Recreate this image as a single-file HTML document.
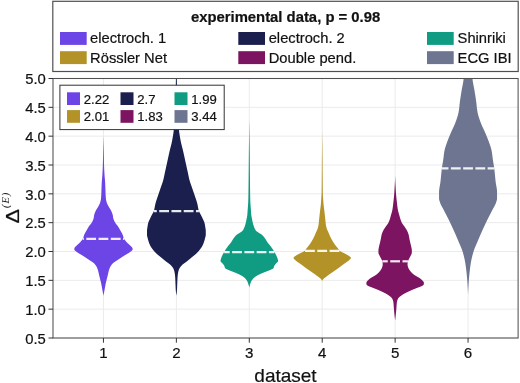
<!DOCTYPE html>
<html><head><meta charset="utf-8"><title>violin</title><style>html,body{margin:0;padding:0;background:#fff}</style></head><body>
<svg width="520" height="383" viewBox="0 0 520 383" style="display:block">
<rect width="520" height="383" fill="#fff"/>
<defs><clipPath id="cp"><rect x="53.00" y="78.50" width="465.10" height="259.50"/></clipPath></defs>
<line x1="53.0" x2="518.1" y1="338.00" y2="338.00" stroke="#ebebeb" stroke-width="1"/>
<line x1="53.0" x2="518.1" y1="309.17" y2="309.17" stroke="#ebebeb" stroke-width="1"/>
<line x1="53.0" x2="518.1" y1="280.33" y2="280.33" stroke="#ebebeb" stroke-width="1"/>
<line x1="53.0" x2="518.1" y1="251.50" y2="251.50" stroke="#ebebeb" stroke-width="1"/>
<line x1="53.0" x2="518.1" y1="222.67" y2="222.67" stroke="#ebebeb" stroke-width="1"/>
<line x1="53.0" x2="518.1" y1="193.83" y2="193.83" stroke="#ebebeb" stroke-width="1"/>
<line x1="53.0" x2="518.1" y1="165.00" y2="165.00" stroke="#ebebeb" stroke-width="1"/>
<line x1="53.0" x2="518.1" y1="136.17" y2="136.17" stroke="#ebebeb" stroke-width="1"/>
<line x1="53.0" x2="518.1" y1="107.33" y2="107.33" stroke="#ebebeb" stroke-width="1"/>
<line x1="53.0" x2="518.1" y1="78.50" y2="78.50" stroke="#ebebeb" stroke-width="1"/>
<line x1="103.45" x2="103.45" y1="78.5" y2="338.0" stroke="#ebebeb" stroke-width="1"/>
<line x1="176.37" x2="176.37" y1="78.5" y2="338.0" stroke="#ebebeb" stroke-width="1"/>
<line x1="249.29" x2="249.29" y1="78.5" y2="338.0" stroke="#ebebeb" stroke-width="1"/>
<line x1="322.21" x2="322.21" y1="78.5" y2="338.0" stroke="#ebebeb" stroke-width="1"/>
<line x1="395.13" x2="395.13" y1="78.5" y2="338.0" stroke="#ebebeb" stroke-width="1"/>
<line x1="468.05" x2="468.05" y1="78.5" y2="338.0" stroke="#ebebeb" stroke-width="1"/>
<g clip-path="url(#cp)">
<path d="M103.45,135.70 L103.43,136.45 L103.42,137.20 L103.40,137.95 L103.39,138.70 L103.37,139.45 L103.35,140.20 L103.34,140.95 L103.32,141.70 L103.31,142.45 L103.29,143.20 L103.28,143.95 L103.26,144.70 L103.24,145.45 L103.23,146.20 L103.21,146.95 L103.20,147.70 L103.18,148.45 L103.17,149.20 L103.15,149.95 L103.14,150.70 L103.12,151.45 L103.11,152.20 L103.09,152.95 L103.08,153.70 L103.07,154.45 L103.06,155.20 L103.04,155.95 L103.03,156.70 L103.02,157.45 L103.00,158.20 L102.99,158.95 L102.98,159.70 L102.96,160.45 L102.95,161.20 L102.93,161.95 L102.91,162.70 L102.89,163.45 L102.87,164.20 L102.85,164.95 L102.83,165.70 L102.80,166.45 L102.77,167.20 L102.74,167.95 L102.71,168.70 L102.67,169.45 L102.63,170.20 L102.59,170.95 L102.55,171.70 L102.50,172.45 L102.46,173.20 L102.41,173.95 L102.37,174.70 L102.32,175.45 L102.27,176.20 L102.21,176.95 L102.14,177.70 L102.07,178.45 L102.01,179.20 L101.94,179.95 L101.88,180.70 L101.82,181.45 L101.77,182.20 L101.73,182.95 L101.70,183.70 L101.66,184.45 L101.63,185.20 L101.60,185.95 L101.57,186.70 L101.55,187.45 L101.52,188.20 L101.49,188.95 L101.46,189.70 L101.43,190.45 L101.40,191.20 L101.38,191.95 L101.35,192.70 L101.32,193.45 L101.29,194.20 L101.25,194.95 L101.21,195.70 L101.16,196.45 L101.11,197.20 L101.05,197.95 L100.97,198.70 L100.88,199.45 L100.74,200.20 L100.57,200.95 L100.38,201.70 L100.16,202.45 L99.91,203.20 L99.60,203.95 L99.24,204.70 L98.84,205.45 L98.42,206.20 L98.01,206.95 L97.56,207.70 L97.08,208.45 L96.59,209.20 L96.14,209.95 L95.75,210.70 L95.40,211.45 L95.08,212.20 L94.77,212.95 L94.51,213.70 L94.29,214.45 L94.12,215.20 L93.99,215.95 L93.88,216.70 L93.77,217.45 L93.62,218.20 L93.42,218.95 L93.16,219.70 L92.84,220.45 L92.48,221.20 L92.09,221.95 L91.67,222.70 L91.16,223.45 L90.57,224.20 L89.96,224.95 L89.37,225.70 L88.85,226.45 L88.38,227.20 L87.93,227.95 L87.50,228.70 L87.07,229.45 L86.65,230.20 L86.22,230.95 L85.78,231.70 L85.34,232.45 L84.94,233.20 L84.56,233.95 L84.24,234.70 L83.98,235.45 L83.73,236.20 L83.49,236.95 L83.22,237.70 L82.90,238.45 L82.49,239.20 L81.99,239.95 L81.43,240.70 L80.82,241.45 L80.17,242.20 L79.44,242.95 L78.62,243.70 L77.77,244.45 L76.95,245.20 L76.20,245.95 L75.42,246.70 L74.73,247.45 L74.40,248.20 L74.28,248.95 L74.31,249.70 L74.91,250.45 L75.85,251.20 L76.80,251.95 L77.85,252.70 L79.06,253.45 L80.34,254.20 L81.63,254.95 L82.85,255.70 L84.01,256.45 L85.16,257.20 L86.30,257.95 L87.42,258.70 L88.53,259.45 L89.66,260.20 L90.83,260.95 L91.98,261.70 L93.05,262.45 L93.95,263.20 L94.66,263.95 L95.28,264.70 L95.83,265.45 L96.32,266.20 L96.73,266.95 L97.08,267.70 L97.38,268.45 L97.64,269.20 L97.87,269.95 L98.09,270.70 L98.29,271.45 L98.48,272.20 L98.65,272.95 L98.81,273.70 L98.97,274.45 L99.14,275.20 L99.32,275.95 L99.51,276.70 L99.70,277.45 L99.90,278.20 L100.09,278.95 L100.28,279.70 L100.46,280.45 L100.65,281.20 L100.84,281.95 L101.01,282.70 L101.17,283.45 L101.33,284.20 L101.47,284.95 L101.61,285.70 L101.75,286.45 L101.89,287.20 L102.02,287.95 L102.16,288.70 L102.29,289.45 L102.42,290.20 L102.56,290.95 L102.70,291.70 L102.84,292.45 L102.98,293.20 L103.13,293.95 L103.27,294.70 L103.42,295.45 L103.48,295.45 L103.63,294.70 L103.77,293.95 L103.92,293.20 L104.06,292.45 L104.20,291.70 L104.34,290.95 L104.48,290.20 L104.61,289.45 L104.74,288.70 L104.88,287.95 L105.01,287.20 L105.15,286.45 L105.29,285.70 L105.43,284.95 L105.57,284.20 L105.73,283.45 L105.89,282.70 L106.06,281.95 L106.25,281.20 L106.44,280.45 L106.62,279.70 L106.81,278.95 L107.00,278.20 L107.20,277.45 L107.39,276.70 L107.58,275.95 L107.76,275.20 L107.93,274.45 L108.09,273.70 L108.25,272.95 L108.42,272.20 L108.61,271.45 L108.81,270.70 L109.03,269.95 L109.26,269.20 L109.52,268.45 L109.82,267.70 L110.17,266.95 L110.58,266.20 L111.07,265.45 L111.62,264.70 L112.24,263.95 L112.95,263.20 L113.85,262.45 L114.92,261.70 L116.07,260.95 L117.24,260.20 L118.37,259.45 L119.48,258.70 L120.60,257.95 L121.74,257.20 L122.89,256.45 L124.05,255.70 L125.27,254.95 L126.56,254.20 L127.84,253.45 L129.05,252.70 L130.10,251.95 L131.05,251.20 L131.99,250.45 L132.59,249.70 L132.62,248.95 L132.50,248.20 L132.17,247.45 L131.48,246.70 L130.70,245.95 L129.95,245.20 L129.13,244.45 L128.28,243.70 L127.46,242.95 L126.73,242.20 L126.08,241.45 L125.47,240.70 L124.91,239.95 L124.41,239.20 L124.00,238.45 L123.68,237.70 L123.41,236.95 L123.17,236.20 L122.92,235.45 L122.66,234.70 L122.34,233.95 L121.96,233.20 L121.56,232.45 L121.12,231.70 L120.68,230.95 L120.25,230.20 L119.83,229.45 L119.40,228.70 L118.97,227.95 L118.52,227.20 L118.05,226.45 L117.53,225.70 L116.94,224.95 L116.33,224.20 L115.74,223.45 L115.23,222.70 L114.81,221.95 L114.42,221.20 L114.06,220.45 L113.74,219.70 L113.48,218.95 L113.28,218.20 L113.13,217.45 L113.02,216.70 L112.91,215.95 L112.78,215.20 L112.61,214.45 L112.39,213.70 L112.13,212.95 L111.82,212.20 L111.50,211.45 L111.15,210.70 L110.76,209.95 L110.31,209.20 L109.82,208.45 L109.34,207.70 L108.89,206.95 L108.48,206.20 L108.06,205.45 L107.66,204.70 L107.30,203.95 L106.99,203.20 L106.74,202.45 L106.52,201.70 L106.33,200.95 L106.16,200.20 L106.02,199.45 L105.93,198.70 L105.85,197.95 L105.79,197.20 L105.74,196.45 L105.69,195.70 L105.65,194.95 L105.61,194.20 L105.58,193.45 L105.55,192.70 L105.52,191.95 L105.50,191.20 L105.47,190.45 L105.44,189.70 L105.41,188.95 L105.38,188.20 L105.35,187.45 L105.33,186.70 L105.30,185.95 L105.27,185.20 L105.24,184.45 L105.20,183.70 L105.17,182.95 L105.13,182.20 L105.08,181.45 L105.02,180.70 L104.96,179.95 L104.89,179.20 L104.83,178.45 L104.76,177.70 L104.69,176.95 L104.63,176.20 L104.58,175.45 L104.53,174.70 L104.49,173.95 L104.44,173.20 L104.40,172.45 L104.35,171.70 L104.31,170.95 L104.27,170.20 L104.23,169.45 L104.19,168.70 L104.16,167.95 L104.13,167.20 L104.10,166.45 L104.07,165.70 L104.05,164.95 L104.03,164.20 L104.01,163.45 L103.99,162.70 L103.97,161.95 L103.95,161.20 L103.94,160.45 L103.92,159.70 L103.91,158.95 L103.90,158.20 L103.88,157.45 L103.87,156.70 L103.86,155.95 L103.84,155.20 L103.83,154.45 L103.82,153.70 L103.81,152.95 L103.79,152.20 L103.78,151.45 L103.76,150.70 L103.75,149.95 L103.73,149.20 L103.72,148.45 L103.70,147.70 L103.69,146.95 L103.67,146.20 L103.66,145.45 L103.64,144.70 L103.62,143.95 L103.61,143.20 L103.59,142.45 L103.58,141.70 L103.56,140.95 L103.55,140.20 L103.53,139.45 L103.51,138.70 L103.50,137.95 L103.48,137.20 L103.47,136.45 L103.45,135.70Z" fill="#6D44E6"/>
<line x1="82.71" x2="83.85" y1="238.81" y2="238.81" stroke="#fff" stroke-opacity="0.9" stroke-width="2.2"/>
<line x1="86.30" x2="96.10" y1="238.81" y2="238.81" stroke="#fff" stroke-opacity="0.9" stroke-width="2.2"/>
<line x1="98.55" x2="108.35" y1="238.81" y2="238.81" stroke="#fff" stroke-opacity="0.9" stroke-width="2.2"/>
<line x1="110.80" x2="120.60" y1="238.81" y2="238.81" stroke="#fff" stroke-opacity="0.9" stroke-width="2.2"/>
<line x1="123.05" x2="124.19" y1="238.81" y2="238.81" stroke="#fff" stroke-opacity="0.9" stroke-width="2.2"/>
<path d="M176.07,60.00 L176.07,60.75 L176.06,61.50 L176.06,62.25 L176.06,63.00 L176.05,63.75 L176.05,64.50 L176.04,65.25 L176.04,66.00 L176.03,66.75 L176.03,67.50 L176.02,68.25 L176.01,69.00 L176.01,69.75 L176.00,70.50 L175.99,71.25 L175.99,72.00 L175.98,72.75 L175.97,73.50 L175.96,74.25 L175.95,75.00 L175.95,75.75 L175.94,76.50 L175.93,77.25 L175.92,78.00 L175.91,78.75 L175.90,79.50 L175.89,80.25 L175.88,81.00 L175.87,81.75 L175.86,82.50 L175.85,83.25 L175.83,84.00 L175.82,84.75 L175.81,85.50 L175.79,86.25 L175.78,87.00 L175.77,87.75 L175.75,88.50 L175.74,89.25 L175.72,90.00 L175.70,90.75 L175.69,91.50 L175.67,92.25 L175.65,93.00 L175.63,93.75 L175.62,94.50 L175.60,95.25 L175.58,96.00 L175.56,96.75 L175.54,97.50 L175.52,98.25 L175.50,99.00 L175.48,99.75 L175.46,100.50 L175.43,101.25 L175.41,102.00 L175.39,102.75 L175.36,103.50 L175.33,104.25 L175.31,105.00 L175.28,105.75 L175.25,106.50 L175.22,107.25 L175.19,108.00 L175.15,108.75 L175.12,109.50 L175.09,110.25 L175.05,111.00 L175.02,111.75 L174.98,112.50 L174.94,113.25 L174.90,114.00 L174.86,114.75 L174.82,115.50 L174.78,116.25 L174.74,117.00 L174.70,117.75 L174.66,118.50 L174.61,119.25 L174.57,120.00 L174.52,120.75 L174.48,121.50 L174.43,122.25 L174.38,123.00 L174.32,123.75 L174.27,124.50 L174.21,125.25 L174.15,126.00 L174.08,126.75 L174.02,127.50 L173.95,128.25 L173.87,129.00 L173.80,129.75 L173.72,130.50 L173.63,131.25 L173.54,132.00 L173.44,132.75 L173.33,133.50 L173.22,134.25 L173.11,135.00 L172.99,135.75 L172.86,136.50 L172.73,137.25 L172.60,138.00 L172.47,138.75 L172.33,139.50 L172.19,140.25 L172.05,141.00 L171.90,141.75 L171.74,142.50 L171.57,143.25 L171.40,144.00 L171.21,144.75 L171.02,145.50 L170.83,146.25 L170.64,147.00 L170.45,147.75 L170.25,148.50 L170.06,149.25 L169.88,150.00 L169.70,150.75 L169.52,151.50 L169.35,152.25 L169.19,153.00 L169.02,153.75 L168.85,154.50 L168.69,155.25 L168.53,156.00 L168.36,156.75 L168.20,157.50 L168.04,158.25 L167.88,159.00 L167.72,159.75 L167.55,160.50 L167.39,161.25 L167.23,162.00 L167.06,162.75 L166.89,163.50 L166.73,164.25 L166.56,165.00 L166.40,165.75 L166.23,166.50 L166.06,167.25 L165.90,168.00 L165.73,168.75 L165.57,169.50 L165.40,170.25 L165.23,171.00 L165.07,171.75 L164.90,172.50 L164.75,173.25 L164.59,174.00 L164.44,174.75 L164.29,175.50 L164.13,176.25 L163.97,177.00 L163.81,177.75 L163.64,178.50 L163.46,179.25 L163.27,180.00 L163.06,180.75 L162.84,181.50 L162.60,182.25 L162.35,183.00 L162.09,183.75 L161.83,184.50 L161.56,185.25 L161.30,186.00 L161.03,186.75 L160.77,187.50 L160.52,188.25 L160.26,189.00 L160.00,189.75 L159.75,190.50 L159.49,191.25 L159.23,192.00 L158.97,192.75 L158.71,193.50 L158.46,194.25 L158.20,195.00 L157.95,195.75 L157.70,196.50 L157.45,197.25 L157.19,198.00 L156.94,198.75 L156.68,199.50 L156.43,200.25 L156.19,201.00 L155.96,201.75 L155.74,202.50 L155.54,203.25 L155.35,204.00 L155.18,204.75 L155.03,205.50 L154.89,206.25 L154.76,207.00 L154.62,207.75 L154.47,208.50 L154.31,209.25 L154.13,210.00 L153.92,210.75 L153.65,211.50 L153.31,212.25 L152.91,213.00 L152.49,213.75 L152.06,214.50 L151.67,215.25 L151.30,216.00 L150.93,216.75 L150.56,217.50 L150.20,218.25 L149.86,219.00 L149.52,219.75 L149.17,220.50 L148.83,221.25 L148.52,222.00 L148.27,222.75 L148.07,223.50 L147.92,224.25 L147.78,225.00 L147.66,225.75 L147.54,226.50 L147.43,227.25 L147.31,228.00 L147.18,228.75 L147.08,229.50 L147.00,230.25 L146.97,231.00 L146.97,231.75 L146.97,232.50 L146.97,233.25 L146.97,234.00 L146.97,234.75 L147.02,235.50 L147.17,236.25 L147.37,237.00 L147.56,237.75 L147.74,238.50 L147.93,239.25 L148.13,240.00 L148.35,240.75 L148.59,241.50 L148.84,242.25 L149.11,243.00 L149.39,243.75 L149.71,244.50 L150.05,245.25 L150.43,246.00 L150.86,246.75 L151.34,247.50 L151.86,248.25 L152.42,249.00 L152.99,249.75 L153.59,250.50 L154.23,251.25 L154.90,252.00 L155.62,252.75 L156.37,253.50 L157.19,254.25 L158.08,255.00 L159.01,255.75 L159.96,256.50 L160.89,257.25 L161.79,258.00 L162.68,258.75 L163.58,259.50 L164.48,260.25 L165.40,261.00 L166.35,261.75 L167.39,262.50 L168.45,263.25 L169.46,264.00 L170.37,264.75 L171.10,265.50 L171.75,266.25 L172.36,267.00 L172.90,267.75 L173.35,268.50 L173.69,269.25 L173.96,270.00 L174.20,270.75 L174.40,271.50 L174.56,272.25 L174.70,273.00 L174.82,273.75 L174.92,274.50 L175.01,275.25 L175.09,276.00 L175.15,276.75 L175.20,277.50 L175.25,278.25 L175.28,279.00 L175.32,279.75 L175.35,280.50 L175.38,281.25 L175.41,282.00 L175.44,282.75 L175.46,283.50 L175.50,284.25 L175.53,285.00 L175.56,285.75 L175.59,286.50 L175.63,287.25 L175.66,288.00 L175.70,288.75 L175.74,289.50 L175.79,290.25 L175.84,291.00 L175.91,291.75 L175.98,292.50 L176.06,293.25 L176.15,294.00 L176.25,294.75 L176.34,295.50 L176.40,295.50 L176.49,294.75 L176.59,294.00 L176.68,293.25 L176.76,292.50 L176.83,291.75 L176.90,291.00 L176.95,290.25 L177.00,289.50 L177.04,288.75 L177.08,288.00 L177.11,287.25 L177.15,286.50 L177.18,285.75 L177.21,285.00 L177.24,284.25 L177.28,283.50 L177.30,282.75 L177.33,282.00 L177.36,281.25 L177.39,280.50 L177.42,279.75 L177.46,279.00 L177.49,278.25 L177.54,277.50 L177.59,276.75 L177.65,276.00 L177.73,275.25 L177.82,274.50 L177.92,273.75 L178.04,273.00 L178.18,272.25 L178.34,271.50 L178.54,270.75 L178.78,270.00 L179.05,269.25 L179.39,268.50 L179.84,267.75 L180.38,267.00 L180.99,266.25 L181.64,265.50 L182.37,264.75 L183.28,264.00 L184.29,263.25 L185.35,262.50 L186.39,261.75 L187.34,261.00 L188.26,260.25 L189.16,259.50 L190.06,258.75 L190.95,258.00 L191.85,257.25 L192.78,256.50 L193.73,255.75 L194.66,255.00 L195.55,254.25 L196.37,253.50 L197.12,252.75 L197.84,252.00 L198.51,251.25 L199.15,250.50 L199.75,249.75 L200.32,249.00 L200.88,248.25 L201.40,247.50 L201.88,246.75 L202.31,246.00 L202.69,245.25 L203.03,244.50 L203.35,243.75 L203.63,243.00 L203.90,242.25 L204.15,241.50 L204.39,240.75 L204.61,240.00 L204.81,239.25 L205.00,238.50 L205.18,237.75 L205.37,237.00 L205.57,236.25 L205.72,235.50 L205.77,234.75 L205.77,234.00 L205.77,233.25 L205.77,232.50 L205.77,231.75 L205.77,231.00 L205.74,230.25 L205.66,229.50 L205.56,228.75 L205.43,228.00 L205.31,227.25 L205.20,226.50 L205.08,225.75 L204.96,225.00 L204.82,224.25 L204.67,223.50 L204.47,222.75 L204.22,222.00 L203.91,221.25 L203.57,220.50 L203.22,219.75 L202.88,219.00 L202.54,218.25 L202.18,217.50 L201.81,216.75 L201.44,216.00 L201.07,215.25 L200.68,214.50 L200.25,213.75 L199.83,213.00 L199.43,212.25 L199.09,211.50 L198.82,210.75 L198.61,210.00 L198.43,209.25 L198.27,208.50 L198.12,207.75 L197.98,207.00 L197.85,206.25 L197.71,205.50 L197.56,204.75 L197.39,204.00 L197.20,203.25 L197.00,202.50 L196.78,201.75 L196.55,201.00 L196.31,200.25 L196.06,199.50 L195.80,198.75 L195.55,198.00 L195.29,197.25 L195.04,196.50 L194.79,195.75 L194.54,195.00 L194.28,194.25 L194.03,193.50 L193.77,192.75 L193.51,192.00 L193.25,191.25 L192.99,190.50 L192.74,189.75 L192.48,189.00 L192.22,188.25 L191.97,187.50 L191.71,186.75 L191.44,186.00 L191.18,185.25 L190.91,184.50 L190.65,183.75 L190.39,183.00 L190.14,182.25 L189.90,181.50 L189.68,180.75 L189.47,180.00 L189.28,179.25 L189.10,178.50 L188.93,177.75 L188.77,177.00 L188.61,176.25 L188.45,175.50 L188.30,174.75 L188.15,174.00 L187.99,173.25 L187.84,172.50 L187.67,171.75 L187.51,171.00 L187.34,170.25 L187.17,169.50 L187.01,168.75 L186.84,168.00 L186.68,167.25 L186.51,166.50 L186.34,165.75 L186.18,165.00 L186.01,164.25 L185.85,163.50 L185.68,162.75 L185.51,162.00 L185.35,161.25 L185.19,160.50 L185.02,159.75 L184.86,159.00 L184.70,158.25 L184.54,157.50 L184.38,156.75 L184.21,156.00 L184.05,155.25 L183.89,154.50 L183.72,153.75 L183.55,153.00 L183.39,152.25 L183.22,151.50 L183.04,150.75 L182.86,150.00 L182.68,149.25 L182.49,148.50 L182.29,147.75 L182.10,147.00 L181.91,146.25 L181.72,145.50 L181.53,144.75 L181.34,144.00 L181.17,143.25 L181.00,142.50 L180.84,141.75 L180.69,141.00 L180.55,140.25 L180.41,139.50 L180.27,138.75 L180.14,138.00 L180.01,137.25 L179.88,136.50 L179.75,135.75 L179.63,135.00 L179.52,134.25 L179.41,133.50 L179.30,132.75 L179.20,132.00 L179.11,131.25 L179.02,130.50 L178.94,129.75 L178.87,129.00 L178.79,128.25 L178.72,127.50 L178.66,126.75 L178.59,126.00 L178.53,125.25 L178.47,124.50 L178.42,123.75 L178.36,123.00 L178.31,122.25 L178.26,121.50 L178.22,120.75 L178.17,120.00 L178.13,119.25 L178.08,118.50 L178.04,117.75 L178.00,117.00 L177.96,116.25 L177.92,115.50 L177.88,114.75 L177.84,114.00 L177.80,113.25 L177.76,112.50 L177.72,111.75 L177.69,111.00 L177.65,110.25 L177.62,109.50 L177.59,108.75 L177.55,108.00 L177.52,107.25 L177.49,106.50 L177.46,105.75 L177.43,105.00 L177.41,104.25 L177.38,103.50 L177.35,102.75 L177.33,102.00 L177.31,101.25 L177.28,100.50 L177.26,99.75 L177.24,99.00 L177.22,98.25 L177.20,97.50 L177.18,96.75 L177.16,96.00 L177.14,95.25 L177.12,94.50 L177.11,93.75 L177.09,93.00 L177.07,92.25 L177.05,91.50 L177.04,90.75 L177.02,90.00 L177.00,89.25 L176.99,88.50 L176.97,87.75 L176.96,87.00 L176.95,86.25 L176.93,85.50 L176.92,84.75 L176.91,84.00 L176.89,83.25 L176.88,82.50 L176.87,81.75 L176.86,81.00 L176.85,80.25 L176.84,79.50 L176.83,78.75 L176.82,78.00 L176.81,77.25 L176.80,76.50 L176.79,75.75 L176.79,75.00 L176.78,74.25 L176.77,73.50 L176.76,72.75 L176.75,72.00 L176.75,71.25 L176.74,70.50 L176.73,69.75 L176.73,69.00 L176.72,68.25 L176.71,67.50 L176.71,66.75 L176.70,66.00 L176.70,65.25 L176.69,64.50 L176.69,63.75 L176.68,63.00 L176.68,62.25 L176.68,61.50 L176.67,60.75 L176.67,60.00Z" fill="#1B1F4E"/>
<line x1="153.79" x2="156.77" y1="211.13" y2="211.13" stroke="#fff" stroke-opacity="0.9" stroke-width="2.2"/>
<line x1="159.22" x2="169.02" y1="211.13" y2="211.13" stroke="#fff" stroke-opacity="0.9" stroke-width="2.2"/>
<line x1="171.47" x2="181.27" y1="211.13" y2="211.13" stroke="#fff" stroke-opacity="0.9" stroke-width="2.2"/>
<line x1="183.72" x2="193.52" y1="211.13" y2="211.13" stroke="#fff" stroke-opacity="0.9" stroke-width="2.2"/>
<line x1="195.97" x2="198.95" y1="211.13" y2="211.13" stroke="#fff" stroke-opacity="0.9" stroke-width="2.2"/>
<path d="M249.29,120.00 L249.28,120.75 L249.27,121.50 L249.26,122.25 L249.25,123.00 L249.24,123.75 L249.22,124.50 L249.21,125.25 L249.20,126.00 L249.19,126.75 L249.18,127.50 L249.17,128.25 L249.16,129.00 L249.15,129.75 L249.14,130.50 L249.13,131.25 L249.12,132.00 L249.11,132.75 L249.10,133.50 L249.09,134.25 L249.08,135.00 L249.07,135.75 L249.06,136.50 L249.05,137.25 L249.04,138.00 L249.03,138.75 L249.02,139.50 L249.01,140.25 L249.00,141.00 L248.99,141.75 L248.98,142.50 L248.97,143.25 L248.96,144.00 L248.95,144.75 L248.94,145.50 L248.93,146.25 L248.93,147.00 L248.92,147.75 L248.91,148.50 L248.90,149.25 L248.89,150.00 L248.88,150.75 L248.87,151.50 L248.86,152.25 L248.86,153.00 L248.85,153.75 L248.84,154.50 L248.83,155.25 L248.83,156.00 L248.82,156.75 L248.81,157.50 L248.81,158.25 L248.80,159.00 L248.79,159.75 L248.78,160.50 L248.78,161.25 L248.77,162.00 L248.76,162.75 L248.76,163.50 L248.75,164.25 L248.75,165.00 L248.74,165.75 L248.73,166.50 L248.73,167.25 L248.72,168.00 L248.71,168.75 L248.71,169.50 L248.70,170.25 L248.69,171.00 L248.69,171.75 L248.68,172.50 L248.67,173.25 L248.67,174.00 L248.66,174.75 L248.65,175.50 L248.65,176.25 L248.64,177.00 L248.63,177.75 L248.62,178.50 L248.62,179.25 L248.61,180.00 L248.60,180.75 L248.59,181.50 L248.59,182.25 L248.58,183.00 L248.57,183.75 L248.56,184.50 L248.55,185.25 L248.54,186.00 L248.53,186.75 L248.52,187.50 L248.51,188.25 L248.50,189.00 L248.49,189.75 L248.48,190.50 L248.47,191.25 L248.46,192.00 L248.45,192.75 L248.44,193.50 L248.43,194.25 L248.41,195.00 L248.40,195.75 L248.39,196.50 L248.37,197.25 L248.35,198.00 L248.34,198.75 L248.32,199.50 L248.29,200.25 L248.27,201.00 L248.24,201.75 L248.20,202.50 L248.16,203.25 L248.11,204.00 L248.06,204.75 L248.00,205.50 L247.95,206.25 L247.89,207.00 L247.83,207.75 L247.77,208.50 L247.71,209.25 L247.66,210.00 L247.60,210.75 L247.55,211.50 L247.50,212.25 L247.45,213.00 L247.40,213.75 L247.34,214.50 L247.26,215.25 L247.15,216.00 L247.02,216.75 L246.87,217.50 L246.72,218.25 L246.57,219.00 L246.43,219.75 L246.28,220.50 L246.14,221.25 L245.98,222.00 L245.80,222.75 L245.61,223.50 L245.41,224.25 L245.19,225.00 L244.95,225.75 L244.68,226.50 L244.40,227.25 L244.10,228.00 L243.77,228.75 L243.38,229.50 L242.92,230.25 L242.32,231.00 L241.39,231.75 L240.25,232.50 L239.09,233.25 L237.78,234.00 L236.72,234.75 L235.92,235.50 L235.22,236.25 L234.61,237.00 L234.04,237.75 L233.49,238.50 L232.98,239.25 L232.52,240.00 L232.08,240.75 L231.63,241.50 L231.14,242.25 L230.59,243.00 L229.98,243.75 L229.35,244.50 L228.71,245.25 L228.11,246.00 L227.56,246.75 L227.03,247.50 L226.51,248.25 L226.00,249.00 L225.51,249.75 L225.03,250.50 L224.58,251.25 L224.15,252.00 L223.73,252.75 L223.31,253.50 L222.90,254.25 L222.50,255.00 L222.13,255.75 L221.79,256.50 L221.48,257.25 L221.22,258.00 L220.98,258.75 L220.75,259.50 L220.57,260.25 L220.49,261.00 L220.77,261.75 L221.54,262.50 L222.36,263.25 L222.99,264.00 L223.61,264.75 L224.13,265.50 L224.46,266.25 L224.65,267.00 L224.87,267.75 L225.39,268.50 L226.81,269.25 L228.45,270.00 L230.30,270.75 L232.27,271.50 L234.16,272.25 L236.03,273.00 L237.74,273.75 L239.36,274.50 L240.85,275.25 L242.13,276.00 L243.25,276.75 L244.23,277.50 L245.04,278.25 L245.72,279.00 L246.32,279.75 L246.84,280.50 L247.26,281.25 L247.61,282.00 L247.91,282.75 L248.17,283.50 L248.41,284.25 L248.64,285.00 L248.85,285.75 L249.04,286.50 L249.22,287.25 L249.36,287.25 L249.54,286.50 L249.73,285.75 L249.94,285.00 L250.17,284.25 L250.41,283.50 L250.67,282.75 L250.97,282.00 L251.32,281.25 L251.74,280.50 L252.26,279.75 L252.86,279.00 L253.54,278.25 L254.35,277.50 L255.33,276.75 L256.45,276.00 L257.73,275.25 L259.22,274.50 L260.84,273.75 L262.55,273.00 L264.42,272.25 L266.31,271.50 L268.28,270.75 L270.13,270.00 L271.77,269.25 L273.19,268.50 L273.71,267.75 L273.93,267.00 L274.12,266.25 L274.45,265.50 L274.97,264.75 L275.59,264.00 L276.22,263.25 L277.04,262.50 L277.81,261.75 L278.09,261.00 L278.01,260.25 L277.83,259.50 L277.60,258.75 L277.36,258.00 L277.10,257.25 L276.79,256.50 L276.45,255.75 L276.08,255.00 L275.68,254.25 L275.27,253.50 L274.85,252.75 L274.43,252.00 L274.00,251.25 L273.55,250.50 L273.07,249.75 L272.58,249.00 L272.07,248.25 L271.55,247.50 L271.02,246.75 L270.47,246.00 L269.87,245.25 L269.23,244.50 L268.60,243.75 L267.99,243.00 L267.44,242.25 L266.95,241.50 L266.50,240.75 L266.06,240.00 L265.60,239.25 L265.09,238.50 L264.54,237.75 L263.97,237.00 L263.36,236.25 L262.66,235.50 L261.86,234.75 L260.80,234.00 L259.49,233.25 L258.33,232.50 L257.19,231.75 L256.26,231.00 L255.66,230.25 L255.20,229.50 L254.81,228.75 L254.48,228.00 L254.18,227.25 L253.90,226.50 L253.63,225.75 L253.39,225.00 L253.17,224.25 L252.97,223.50 L252.78,222.75 L252.60,222.00 L252.44,221.25 L252.30,220.50 L252.15,219.75 L252.01,219.00 L251.86,218.25 L251.71,217.50 L251.56,216.75 L251.43,216.00 L251.32,215.25 L251.24,214.50 L251.18,213.75 L251.13,213.00 L251.08,212.25 L251.03,211.50 L250.98,210.75 L250.92,210.00 L250.87,209.25 L250.81,208.50 L250.75,207.75 L250.69,207.00 L250.63,206.25 L250.58,205.50 L250.52,204.75 L250.47,204.00 L250.42,203.25 L250.38,202.50 L250.34,201.75 L250.31,201.00 L250.29,200.25 L250.26,199.50 L250.24,198.75 L250.23,198.00 L250.21,197.25 L250.19,196.50 L250.18,195.75 L250.17,195.00 L250.15,194.25 L250.14,193.50 L250.13,192.75 L250.12,192.00 L250.11,191.25 L250.10,190.50 L250.09,189.75 L250.08,189.00 L250.07,188.25 L250.06,187.50 L250.05,186.75 L250.04,186.00 L250.03,185.25 L250.02,184.50 L250.01,183.75 L250.00,183.00 L249.99,182.25 L249.99,181.50 L249.98,180.75 L249.97,180.00 L249.96,179.25 L249.96,178.50 L249.95,177.75 L249.94,177.00 L249.93,176.25 L249.93,175.50 L249.92,174.75 L249.91,174.00 L249.91,173.25 L249.90,172.50 L249.89,171.75 L249.89,171.00 L249.88,170.25 L249.87,169.50 L249.87,168.75 L249.86,168.00 L249.85,167.25 L249.85,166.50 L249.84,165.75 L249.83,165.00 L249.83,164.25 L249.82,163.50 L249.82,162.75 L249.81,162.00 L249.80,161.25 L249.80,160.50 L249.79,159.75 L249.78,159.00 L249.77,158.25 L249.77,157.50 L249.76,156.75 L249.75,156.00 L249.75,155.25 L249.74,154.50 L249.73,153.75 L249.72,153.00 L249.72,152.25 L249.71,151.50 L249.70,150.75 L249.69,150.00 L249.68,149.25 L249.67,148.50 L249.66,147.75 L249.65,147.00 L249.65,146.25 L249.64,145.50 L249.63,144.75 L249.62,144.00 L249.61,143.25 L249.60,142.50 L249.59,141.75 L249.58,141.00 L249.57,140.25 L249.56,139.50 L249.55,138.75 L249.54,138.00 L249.53,137.25 L249.52,136.50 L249.51,135.75 L249.50,135.00 L249.49,134.25 L249.48,133.50 L249.47,132.75 L249.46,132.00 L249.45,131.25 L249.44,130.50 L249.43,129.75 L249.42,129.00 L249.41,128.25 L249.40,127.50 L249.39,126.75 L249.38,126.00 L249.37,125.25 L249.36,124.50 L249.34,123.75 L249.33,123.00 L249.32,122.25 L249.31,121.50 L249.30,120.75 L249.29,120.00Z" fill="#0F9C82"/>
<line x1="224.10" x2="229.69" y1="252.08" y2="252.08" stroke="#fff" stroke-opacity="0.9" stroke-width="2.2"/>
<line x1="232.14" x2="241.94" y1="252.08" y2="252.08" stroke="#fff" stroke-opacity="0.9" stroke-width="2.2"/>
<line x1="244.39" x2="254.19" y1="252.08" y2="252.08" stroke="#fff" stroke-opacity="0.9" stroke-width="2.2"/>
<line x1="256.64" x2="266.44" y1="252.08" y2="252.08" stroke="#fff" stroke-opacity="0.9" stroke-width="2.2"/>
<line x1="268.89" x2="274.48" y1="252.08" y2="252.08" stroke="#fff" stroke-opacity="0.9" stroke-width="2.2"/>
<path d="M322.21,130.00 L322.20,130.75 L322.19,131.50 L322.19,132.25 L322.18,133.00 L322.17,133.75 L322.16,134.50 L322.16,135.25 L322.15,136.00 L322.14,136.75 L322.13,137.50 L322.13,138.25 L322.12,139.00 L322.11,139.75 L322.10,140.50 L322.10,141.25 L322.09,142.00 L322.08,142.75 L322.07,143.50 L322.07,144.25 L322.06,145.00 L322.05,145.75 L322.04,146.50 L322.04,147.25 L322.03,148.00 L322.02,148.75 L322.01,149.50 L322.01,150.25 L322.00,151.00 L321.99,151.75 L321.98,152.50 L321.98,153.25 L321.97,154.00 L321.96,154.75 L321.95,155.50 L321.95,156.25 L321.94,157.00 L321.93,157.75 L321.92,158.50 L321.92,159.25 L321.91,160.00 L321.90,160.75 L321.90,161.50 L321.89,162.25 L321.88,163.00 L321.88,163.75 L321.87,164.50 L321.87,165.25 L321.86,166.00 L321.86,166.75 L321.85,167.50 L321.85,168.25 L321.84,169.00 L321.84,169.75 L321.83,170.50 L321.83,171.25 L321.82,172.00 L321.82,172.75 L321.81,173.50 L321.81,174.25 L321.80,175.00 L321.80,175.75 L321.79,176.50 L321.79,177.25 L321.78,178.00 L321.77,178.75 L321.77,179.50 L321.76,180.25 L321.75,181.00 L321.75,181.75 L321.74,182.50 L321.73,183.25 L321.72,184.00 L321.72,184.75 L321.71,185.50 L321.70,186.25 L321.69,187.00 L321.68,187.75 L321.67,188.50 L321.66,189.25 L321.64,190.00 L321.63,190.75 L321.62,191.50 L321.61,192.25 L321.59,193.00 L321.56,193.75 L321.53,194.50 L321.50,195.25 L321.46,196.00 L321.42,196.75 L321.37,197.50 L321.33,198.25 L321.28,199.00 L321.22,199.75 L321.17,200.50 L321.11,201.25 L321.06,202.00 L321.00,202.75 L320.94,203.50 L320.86,204.25 L320.79,205.00 L320.70,205.75 L320.62,206.50 L320.52,207.25 L320.43,208.00 L320.33,208.75 L320.24,209.50 L320.14,210.25 L320.05,211.00 L319.96,211.75 L319.87,212.50 L319.78,213.25 L319.70,214.00 L319.62,214.75 L319.54,215.50 L319.46,216.25 L319.38,217.00 L319.29,217.75 L319.21,218.50 L319.13,219.25 L319.05,220.00 L318.97,220.75 L318.90,221.50 L318.83,222.25 L318.76,223.00 L318.68,223.75 L318.58,224.50 L318.47,225.25 L318.32,226.00 L318.14,226.75 L317.94,227.50 L317.72,228.25 L317.48,229.00 L317.20,229.75 L316.87,230.50 L316.53,231.25 L316.17,232.00 L315.83,232.75 L315.51,233.50 L315.20,234.25 L314.89,235.00 L314.57,235.75 L314.23,236.50 L313.87,237.25 L313.49,238.00 L313.10,238.75 L312.69,239.50 L312.27,240.25 L311.83,241.00 L311.38,241.75 L310.92,242.50 L310.43,243.25 L309.93,244.00 L309.40,244.75 L308.83,245.50 L308.23,246.25 L307.61,247.00 L307.00,247.75 L306.41,248.50 L305.91,249.25 L305.43,250.00 L304.81,250.75 L303.77,251.50 L302.27,252.25 L300.69,253.00 L299.25,253.75 L297.79,254.50 L296.48,255.25 L295.38,256.00 L294.31,256.75 L293.58,257.50 L293.53,258.25 L294.06,259.00 L294.87,259.75 L295.67,260.50 L296.58,261.25 L297.62,262.00 L298.72,262.75 L299.82,263.50 L300.88,264.25 L301.88,265.00 L302.87,265.75 L303.86,266.50 L304.85,267.25 L305.87,268.00 L306.92,268.75 L307.99,269.50 L309.08,270.25 L310.17,271.00 L311.25,271.75 L312.33,272.50 L313.42,273.25 L314.51,274.00 L315.57,274.75 L316.59,275.50 L317.56,276.25 L318.57,277.00 L319.57,277.75 L320.47,278.50 L321.21,279.25 L321.72,280.00 L322.07,280.75 L322.35,280.75 L322.70,280.00 L323.21,279.25 L323.95,278.50 L324.85,277.75 L325.85,277.00 L326.86,276.25 L327.83,275.50 L328.85,274.75 L329.91,274.00 L331.00,273.25 L332.09,272.50 L333.17,271.75 L334.25,271.00 L335.34,270.25 L336.43,269.50 L337.50,268.75 L338.55,268.00 L339.57,267.25 L340.56,266.50 L341.55,265.75 L342.54,265.00 L343.54,264.25 L344.60,263.50 L345.70,262.75 L346.80,262.00 L347.84,261.25 L348.75,260.50 L349.55,259.75 L350.36,259.00 L350.89,258.25 L350.84,257.50 L350.11,256.75 L349.04,256.00 L347.94,255.25 L346.63,254.50 L345.17,253.75 L343.73,253.00 L342.15,252.25 L340.65,251.50 L339.61,250.75 L338.99,250.00 L338.51,249.25 L338.01,248.50 L337.42,247.75 L336.81,247.00 L336.19,246.25 L335.59,245.50 L335.02,244.75 L334.49,244.00 L333.99,243.25 L333.50,242.50 L333.04,241.75 L332.59,241.00 L332.15,240.25 L331.73,239.50 L331.32,238.75 L330.93,238.00 L330.55,237.25 L330.19,236.50 L329.85,235.75 L329.53,235.00 L329.22,234.25 L328.91,233.50 L328.59,232.75 L328.25,232.00 L327.89,231.25 L327.55,230.50 L327.22,229.75 L326.94,229.00 L326.70,228.25 L326.48,227.50 L326.28,226.75 L326.10,226.00 L325.95,225.25 L325.84,224.50 L325.74,223.75 L325.66,223.00 L325.59,222.25 L325.52,221.50 L325.45,220.75 L325.37,220.00 L325.29,219.25 L325.21,218.50 L325.13,217.75 L325.04,217.00 L324.96,216.25 L324.88,215.50 L324.80,214.75 L324.72,214.00 L324.64,213.25 L324.55,212.50 L324.46,211.75 L324.37,211.00 L324.28,210.25 L324.18,209.50 L324.09,208.75 L323.99,208.00 L323.90,207.25 L323.80,206.50 L323.72,205.75 L323.63,205.00 L323.56,204.25 L323.48,203.50 L323.42,202.75 L323.36,202.00 L323.31,201.25 L323.25,200.50 L323.20,199.75 L323.14,199.00 L323.09,198.25 L323.05,197.50 L323.00,196.75 L322.96,196.00 L322.92,195.25 L322.89,194.50 L322.86,193.75 L322.83,193.00 L322.81,192.25 L322.80,191.50 L322.79,190.75 L322.78,190.00 L322.76,189.25 L322.75,188.50 L322.74,187.75 L322.73,187.00 L322.72,186.25 L322.71,185.50 L322.70,184.75 L322.70,184.00 L322.69,183.25 L322.68,182.50 L322.67,181.75 L322.67,181.00 L322.66,180.25 L322.65,179.50 L322.65,178.75 L322.64,178.00 L322.63,177.25 L322.63,176.50 L322.62,175.75 L322.62,175.00 L322.61,174.25 L322.61,173.50 L322.60,172.75 L322.60,172.00 L322.59,171.25 L322.59,170.50 L322.58,169.75 L322.58,169.00 L322.57,168.25 L322.57,167.50 L322.56,166.75 L322.56,166.00 L322.55,165.25 L322.55,164.50 L322.54,163.75 L322.54,163.00 L322.53,162.25 L322.52,161.50 L322.52,160.75 L322.51,160.00 L322.50,159.25 L322.50,158.50 L322.49,157.75 L322.48,157.00 L322.47,156.25 L322.47,155.50 L322.46,154.75 L322.45,154.00 L322.44,153.25 L322.44,152.50 L322.43,151.75 L322.42,151.00 L322.41,150.25 L322.41,149.50 L322.40,148.75 L322.39,148.00 L322.38,147.25 L322.38,146.50 L322.37,145.75 L322.36,145.00 L322.35,144.25 L322.35,143.50 L322.34,142.75 L322.33,142.00 L322.32,141.25 L322.32,140.50 L322.31,139.75 L322.30,139.00 L322.29,138.25 L322.29,137.50 L322.28,136.75 L322.27,136.00 L322.26,135.25 L322.26,134.50 L322.25,133.75 L322.24,133.00 L322.23,132.25 L322.23,131.50 L322.22,130.75 L322.21,130.00Z" fill="#B39327"/>
<line x1="305.06" x2="314.86" y1="250.92" y2="250.92" stroke="#fff" stroke-opacity="0.9" stroke-width="2.2"/>
<line x1="317.31" x2="327.11" y1="250.92" y2="250.92" stroke="#fff" stroke-opacity="0.9" stroke-width="2.2"/>
<line x1="329.56" x2="339.36" y1="250.92" y2="250.92" stroke="#fff" stroke-opacity="0.9" stroke-width="2.2"/>
<path d="M395.13,174.40 L395.12,175.15 L395.11,175.90 L395.09,176.65 L395.07,177.40 L395.05,178.15 L395.02,178.90 L395.00,179.65 L394.97,180.40 L394.94,181.15 L394.91,181.90 L394.87,182.65 L394.84,183.40 L394.80,184.15 L394.76,184.90 L394.72,185.65 L394.68,186.40 L394.64,187.15 L394.59,187.90 L394.55,188.65 L394.50,189.40 L394.46,190.15 L394.41,190.90 L394.36,191.65 L394.32,192.40 L394.27,193.15 L394.21,193.90 L394.15,194.65 L394.08,195.40 L394.02,196.15 L393.94,196.90 L393.87,197.65 L393.79,198.40 L393.71,199.15 L393.63,199.90 L393.55,200.65 L393.47,201.40 L393.38,202.15 L393.30,202.90 L393.21,203.65 L393.13,204.40 L393.04,205.15 L392.95,205.90 L392.85,206.65 L392.75,207.40 L392.64,208.15 L392.52,208.90 L392.39,209.65 L392.25,210.40 L392.08,211.15 L391.88,211.90 L391.67,212.65 L391.45,213.40 L391.22,214.15 L391.01,214.90 L390.80,215.65 L390.60,216.40 L390.40,217.15 L390.19,217.90 L389.96,218.65 L389.71,219.40 L389.45,220.15 L389.17,220.90 L388.87,221.65 L388.53,222.40 L388.14,223.15 L387.66,223.90 L387.12,224.65 L386.55,225.40 L386.00,226.15 L385.48,226.90 L384.98,227.65 L384.48,228.40 L383.99,229.15 L383.55,229.90 L383.15,230.65 L382.81,231.40 L382.48,232.15 L382.18,232.90 L381.91,233.65 L381.68,234.40 L381.50,235.15 L381.35,235.90 L381.21,236.65 L381.08,237.40 L380.95,238.15 L380.80,238.90 L380.64,239.65 L380.48,240.40 L380.31,241.15 L380.14,241.90 L379.97,242.65 L379.78,243.40 L379.59,244.15 L379.40,244.90 L379.22,245.65 L379.06,246.40 L378.90,247.15 L378.74,247.90 L378.59,248.65 L378.48,249.40 L378.43,250.15 L378.43,250.90 L378.43,251.65 L378.43,252.40 L378.49,253.15 L378.74,253.90 L379.11,254.65 L379.49,255.40 L379.84,256.15 L380.24,256.90 L380.65,257.65 L381.03,258.40 L381.42,259.15 L381.81,259.90 L382.12,260.65 L382.32,261.40 L382.48,262.15 L382.61,262.90 L382.70,263.65 L382.73,264.40 L382.67,265.15 L382.51,265.90 L382.30,266.65 L382.06,267.40 L381.78,268.15 L381.39,268.90 L380.92,269.65 L380.39,270.40 L379.82,271.15 L379.22,271.90 L378.51,272.65 L377.71,273.40 L376.83,274.15 L375.85,274.90 L374.65,275.65 L373.33,276.40 L371.99,277.15 L370.75,277.90 L369.71,278.65 L368.89,279.40 L368.07,280.15 L367.32,280.90 L366.73,281.65 L366.38,282.40 L366.34,283.15 L366.42,283.90 L366.59,284.65 L367.48,285.40 L368.81,286.15 L370.72,286.90 L372.80,287.65 L374.67,288.40 L376.51,289.15 L378.30,289.90 L380.02,290.65 L381.64,291.40 L383.21,292.15 L384.73,292.90 L386.16,293.65 L387.43,294.40 L388.53,295.15 L389.58,295.90 L390.54,296.65 L391.37,297.40 L391.98,298.15 L392.38,298.90 L392.71,299.65 L392.98,300.40 L393.19,301.15 L393.33,301.90 L393.43,302.65 L393.51,303.40 L393.58,304.15 L393.64,304.90 L393.69,305.65 L393.74,306.40 L393.79,307.15 L393.84,307.90 L393.90,308.65 L393.97,309.40 L394.03,310.15 L394.10,310.90 L394.17,311.65 L394.24,312.40 L394.31,313.15 L394.39,313.90 L394.47,314.65 L394.54,315.40 L394.63,316.15 L394.71,316.90 L394.79,317.65 L394.88,318.40 L394.97,319.15 L395.06,319.90 L395.20,319.90 L395.29,319.15 L395.38,318.40 L395.47,317.65 L395.55,316.90 L395.63,316.15 L395.72,315.40 L395.79,314.65 L395.87,313.90 L395.95,313.15 L396.02,312.40 L396.09,311.65 L396.16,310.90 L396.23,310.15 L396.29,309.40 L396.36,308.65 L396.42,307.90 L396.47,307.15 L396.52,306.40 L396.57,305.65 L396.62,304.90 L396.68,304.15 L396.75,303.40 L396.83,302.65 L396.93,301.90 L397.07,301.15 L397.28,300.40 L397.55,299.65 L397.88,298.90 L398.28,298.15 L398.89,297.40 L399.72,296.65 L400.68,295.90 L401.73,295.15 L402.83,294.40 L404.10,293.65 L405.53,292.90 L407.05,292.15 L408.62,291.40 L410.24,290.65 L411.96,289.90 L413.75,289.15 L415.59,288.40 L417.46,287.65 L419.54,286.90 L421.45,286.15 L422.78,285.40 L423.67,284.65 L423.84,283.90 L423.92,283.15 L423.88,282.40 L423.53,281.65 L422.94,280.90 L422.19,280.15 L421.37,279.40 L420.55,278.65 L419.51,277.90 L418.27,277.15 L416.93,276.40 L415.61,275.65 L414.41,274.90 L413.43,274.15 L412.55,273.40 L411.75,272.65 L411.04,271.90 L410.44,271.15 L409.87,270.40 L409.34,269.65 L408.87,268.90 L408.48,268.15 L408.20,267.40 L407.96,266.65 L407.75,265.90 L407.59,265.15 L407.53,264.40 L407.56,263.65 L407.65,262.90 L407.78,262.15 L407.94,261.40 L408.14,260.65 L408.45,259.90 L408.84,259.15 L409.23,258.40 L409.61,257.65 L410.02,256.90 L410.42,256.15 L410.77,255.40 L411.15,254.65 L411.52,253.90 L411.77,253.15 L411.83,252.40 L411.83,251.65 L411.83,250.90 L411.83,250.15 L411.78,249.40 L411.67,248.65 L411.52,247.90 L411.36,247.15 L411.20,246.40 L411.04,245.65 L410.86,244.90 L410.67,244.15 L410.48,243.40 L410.29,242.65 L410.12,241.90 L409.95,241.15 L409.78,240.40 L409.62,239.65 L409.46,238.90 L409.31,238.15 L409.18,237.40 L409.05,236.65 L408.91,235.90 L408.76,235.15 L408.58,234.40 L408.35,233.65 L408.08,232.90 L407.78,232.15 L407.45,231.40 L407.11,230.65 L406.71,229.90 L406.27,229.15 L405.78,228.40 L405.28,227.65 L404.78,226.90 L404.26,226.15 L403.71,225.40 L403.14,224.65 L402.60,223.90 L402.12,223.15 L401.73,222.40 L401.39,221.65 L401.09,220.90 L400.81,220.15 L400.55,219.40 L400.30,218.65 L400.07,217.90 L399.86,217.15 L399.66,216.40 L399.46,215.65 L399.25,214.90 L399.04,214.15 L398.81,213.40 L398.59,212.65 L398.38,211.90 L398.18,211.15 L398.01,210.40 L397.87,209.65 L397.74,208.90 L397.62,208.15 L397.51,207.40 L397.41,206.65 L397.31,205.90 L397.22,205.15 L397.13,204.40 L397.05,203.65 L396.96,202.90 L396.88,202.15 L396.79,201.40 L396.71,200.65 L396.63,199.90 L396.55,199.15 L396.47,198.40 L396.39,197.65 L396.32,196.90 L396.24,196.15 L396.18,195.40 L396.11,194.65 L396.05,193.90 L395.99,193.15 L395.94,192.40 L395.90,191.65 L395.85,190.90 L395.80,190.15 L395.76,189.40 L395.71,188.65 L395.67,187.90 L395.62,187.15 L395.58,186.40 L395.54,185.65 L395.50,184.90 L395.46,184.15 L395.42,183.40 L395.39,182.65 L395.35,181.90 L395.32,181.15 L395.29,180.40 L395.26,179.65 L395.24,178.90 L395.21,178.15 L395.19,177.40 L395.17,176.65 L395.15,175.90 L395.14,175.15 L395.13,174.40Z" fill="#7D1462"/>
<line x1="382.30" x2="387.78" y1="261.30" y2="261.30" stroke="#fff" stroke-opacity="0.9" stroke-width="2.2"/>
<line x1="390.23" x2="400.03" y1="261.30" y2="261.30" stroke="#fff" stroke-opacity="0.9" stroke-width="2.2"/>
<line x1="402.48" x2="407.96" y1="261.30" y2="261.30" stroke="#fff" stroke-opacity="0.9" stroke-width="2.2"/>
<path d="M464.55,60.00 L464.55,60.75 L464.54,61.50 L464.53,62.25 L464.52,63.00 L464.50,63.75 L464.48,64.50 L464.46,65.25 L464.43,66.00 L464.40,66.75 L464.37,67.50 L464.33,68.25 L464.29,69.00 L464.25,69.75 L464.21,70.50 L464.16,71.25 L464.11,72.00 L464.07,72.75 L464.01,73.50 L463.96,74.25 L463.91,75.00 L463.85,75.75 L463.80,76.50 L463.74,77.25 L463.68,78.00 L463.62,78.75 L463.55,79.50 L463.46,80.25 L463.36,81.00 L463.24,81.75 L463.12,82.50 L462.99,83.25 L462.85,84.00 L462.71,84.75 L462.56,85.50 L462.41,86.25 L462.27,87.00 L462.12,87.75 L461.97,88.50 L461.83,89.25 L461.70,90.00 L461.57,90.75 L461.45,91.50 L461.33,92.25 L461.21,93.00 L461.09,93.75 L460.97,94.50 L460.85,95.25 L460.74,96.00 L460.62,96.75 L460.50,97.50 L460.39,98.25 L460.28,99.00 L460.17,99.75 L460.06,100.50 L459.96,101.25 L459.86,102.00 L459.76,102.75 L459.68,103.50 L459.59,104.25 L459.51,105.00 L459.43,105.75 L459.36,106.50 L459.27,107.25 L459.19,108.00 L459.10,108.75 L459.00,109.50 L458.90,110.25 L458.78,111.00 L458.66,111.75 L458.52,112.50 L458.36,113.25 L458.18,114.00 L457.99,114.75 L457.79,115.50 L457.57,116.25 L457.34,117.00 L457.10,117.75 L456.85,118.50 L456.59,119.25 L456.33,120.00 L456.07,120.75 L455.80,121.50 L455.53,122.25 L455.25,123.00 L454.96,123.75 L454.64,124.50 L454.32,125.25 L453.98,126.00 L453.64,126.75 L453.29,127.50 L452.94,128.25 L452.58,129.00 L452.23,129.75 L451.88,130.50 L451.54,131.25 L451.21,132.00 L450.89,132.75 L450.57,133.50 L450.25,134.25 L449.93,135.00 L449.62,135.75 L449.31,136.50 L449.00,137.25 L448.69,138.00 L448.40,138.75 L448.11,139.50 L447.82,140.25 L447.55,141.00 L447.28,141.75 L447.01,142.50 L446.73,143.25 L446.46,144.00 L446.19,144.75 L445.93,145.50 L445.68,146.25 L445.44,147.00 L445.21,147.75 L445.00,148.50 L444.81,149.25 L444.63,150.00 L444.48,150.75 L444.34,151.50 L444.22,152.25 L444.10,153.00 L443.99,153.75 L443.89,154.50 L443.79,155.25 L443.70,156.00 L443.60,156.75 L443.51,157.50 L443.42,158.25 L443.32,159.00 L443.22,159.75 L443.11,160.50 L443.00,161.25 L442.87,162.00 L442.74,162.75 L442.61,163.50 L442.48,164.25 L442.35,165.00 L442.23,165.75 L442.11,166.50 L442.00,167.25 L441.90,168.00 L441.80,168.75 L441.71,169.50 L441.63,170.25 L441.55,171.00 L441.47,171.75 L441.39,172.50 L441.32,173.25 L441.24,174.00 L441.17,174.75 L441.10,175.50 L441.03,176.25 L440.96,177.00 L440.88,177.75 L440.81,178.50 L440.73,179.25 L440.65,180.00 L440.57,180.75 L440.49,181.50 L440.39,182.25 L440.29,183.00 L440.17,183.75 L440.04,184.50 L439.91,185.25 L439.77,186.00 L439.64,186.75 L439.51,187.50 L439.39,188.25 L439.28,189.00 L439.19,189.75 L439.12,190.50 L439.07,191.25 L439.05,192.00 L439.05,192.75 L439.05,193.50 L439.05,194.25 L439.05,195.00 L439.05,195.75 L439.05,196.50 L439.05,197.25 L439.05,198.00 L439.06,198.75 L439.14,199.50 L439.31,200.25 L439.52,201.00 L439.77,201.75 L440.02,202.50 L440.28,203.25 L440.58,204.00 L440.93,204.75 L441.30,205.50 L441.70,206.25 L442.11,207.00 L442.53,207.75 L442.95,208.50 L443.36,209.25 L443.75,210.00 L444.13,210.75 L444.51,211.50 L444.90,212.25 L445.28,213.00 L445.67,213.75 L446.06,214.50 L446.45,215.25 L446.83,216.00 L447.22,216.75 L447.60,217.50 L447.98,218.25 L448.36,219.00 L448.73,219.75 L449.10,220.50 L449.46,221.25 L449.82,222.00 L450.18,222.75 L450.54,223.50 L450.89,224.25 L451.25,225.00 L451.60,225.75 L451.94,226.50 L452.29,227.25 L452.64,228.00 L452.98,228.75 L453.32,229.50 L453.66,230.25 L453.99,231.00 L454.33,231.75 L454.66,232.50 L455.00,233.25 L455.33,234.00 L455.66,234.75 L455.98,235.50 L456.31,236.25 L456.63,237.00 L456.95,237.75 L457.27,238.50 L457.59,239.25 L457.91,240.00 L458.22,240.75 L458.53,241.50 L458.85,242.25 L459.17,243.00 L459.50,243.75 L459.82,244.50 L460.15,245.25 L460.47,246.00 L460.79,246.75 L461.10,247.50 L461.40,248.25 L461.69,249.00 L461.97,249.75 L462.23,250.50 L462.48,251.25 L462.71,252.00 L462.93,252.75 L463.15,253.50 L463.35,254.25 L463.56,255.00 L463.75,255.75 L463.94,256.50 L464.13,257.25 L464.30,258.00 L464.47,258.75 L464.63,259.50 L464.79,260.25 L464.93,261.00 L465.07,261.75 L465.20,262.50 L465.33,263.25 L465.45,264.00 L465.56,264.75 L465.67,265.50 L465.78,266.25 L465.88,267.00 L465.98,267.75 L466.08,268.50 L466.17,269.25 L466.26,270.00 L466.35,270.75 L466.43,271.50 L466.51,272.25 L466.59,273.00 L466.67,273.75 L466.74,274.50 L466.82,275.25 L466.89,276.00 L466.96,276.75 L467.03,277.50 L467.09,278.25 L467.16,279.00 L467.22,279.75 L467.28,280.50 L467.33,281.25 L467.38,282.00 L467.43,282.75 L467.48,283.50 L467.53,284.25 L467.57,285.00 L467.62,285.75 L467.66,286.50 L467.71,287.25 L467.75,288.00 L467.79,288.75 L467.83,289.50 L467.86,290.25 L467.90,291.00 L467.93,291.75 L467.96,292.50 L467.99,293.25 L468.02,294.00 L468.04,294.75 L468.06,294.75 L468.08,294.00 L468.11,293.25 L468.14,292.50 L468.17,291.75 L468.20,291.00 L468.24,290.25 L468.27,289.50 L468.31,288.75 L468.35,288.00 L468.39,287.25 L468.44,286.50 L468.48,285.75 L468.53,285.00 L468.57,284.25 L468.62,283.50 L468.67,282.75 L468.72,282.00 L468.77,281.25 L468.82,280.50 L468.88,279.75 L468.94,279.00 L469.01,278.25 L469.07,277.50 L469.14,276.75 L469.21,276.00 L469.28,275.25 L469.36,274.50 L469.43,273.75 L469.51,273.00 L469.59,272.25 L469.67,271.50 L469.75,270.75 L469.84,270.00 L469.93,269.25 L470.02,268.50 L470.12,267.75 L470.22,267.00 L470.32,266.25 L470.43,265.50 L470.54,264.75 L470.65,264.00 L470.77,263.25 L470.90,262.50 L471.03,261.75 L471.17,261.00 L471.31,260.25 L471.47,259.50 L471.63,258.75 L471.80,258.00 L471.97,257.25 L472.16,256.50 L472.35,255.75 L472.54,255.00 L472.75,254.25 L472.95,253.50 L473.17,252.75 L473.39,252.00 L473.62,251.25 L473.87,250.50 L474.13,249.75 L474.41,249.00 L474.70,248.25 L475.00,247.50 L475.31,246.75 L475.63,246.00 L475.95,245.25 L476.28,244.50 L476.60,243.75 L476.93,243.00 L477.25,242.25 L477.57,241.50 L477.88,240.75 L478.19,240.00 L478.51,239.25 L478.83,238.50 L479.15,237.75 L479.47,237.00 L479.79,236.25 L480.12,235.50 L480.44,234.75 L480.77,234.00 L481.10,233.25 L481.44,232.50 L481.77,231.75 L482.11,231.00 L482.44,230.25 L482.78,229.50 L483.12,228.75 L483.46,228.00 L483.81,227.25 L484.16,226.50 L484.50,225.75 L484.85,225.00 L485.21,224.25 L485.56,223.50 L485.92,222.75 L486.28,222.00 L486.64,221.25 L487.00,220.50 L487.37,219.75 L487.74,219.00 L488.12,218.25 L488.50,217.50 L488.88,216.75 L489.27,216.00 L489.65,215.25 L490.04,214.50 L490.43,213.75 L490.82,213.00 L491.20,212.25 L491.59,211.50 L491.97,210.75 L492.35,210.00 L492.74,209.25 L493.15,208.50 L493.57,207.75 L493.99,207.00 L494.40,206.25 L494.80,205.50 L495.17,204.75 L495.52,204.00 L495.82,203.25 L496.08,202.50 L496.33,201.75 L496.58,201.00 L496.79,200.25 L496.96,199.50 L497.04,198.75 L497.05,198.00 L497.05,197.25 L497.05,196.50 L497.05,195.75 L497.05,195.00 L497.05,194.25 L497.05,193.50 L497.05,192.75 L497.05,192.00 L497.03,191.25 L496.98,190.50 L496.91,189.75 L496.82,189.00 L496.71,188.25 L496.59,187.50 L496.46,186.75 L496.33,186.00 L496.19,185.25 L496.06,184.50 L495.93,183.75 L495.81,183.00 L495.71,182.25 L495.61,181.50 L495.53,180.75 L495.45,180.00 L495.37,179.25 L495.29,178.50 L495.22,177.75 L495.14,177.00 L495.07,176.25 L495.00,175.50 L494.93,174.75 L494.86,174.00 L494.78,173.25 L494.71,172.50 L494.63,171.75 L494.55,171.00 L494.47,170.25 L494.39,169.50 L494.30,168.75 L494.20,168.00 L494.10,167.25 L493.99,166.50 L493.87,165.75 L493.75,165.00 L493.62,164.25 L493.49,163.50 L493.36,162.75 L493.23,162.00 L493.10,161.25 L492.99,160.50 L492.88,159.75 L492.78,159.00 L492.68,158.25 L492.59,157.50 L492.50,156.75 L492.40,156.00 L492.31,155.25 L492.21,154.50 L492.11,153.75 L492.00,153.00 L491.88,152.25 L491.76,151.50 L491.62,150.75 L491.47,150.00 L491.29,149.25 L491.10,148.50 L490.89,147.75 L490.66,147.00 L490.42,146.25 L490.17,145.50 L489.91,144.75 L489.64,144.00 L489.37,143.25 L489.09,142.50 L488.82,141.75 L488.55,141.00 L488.28,140.25 L487.99,139.50 L487.70,138.75 L487.41,138.00 L487.10,137.25 L486.79,136.50 L486.48,135.75 L486.17,135.00 L485.85,134.25 L485.53,133.50 L485.21,132.75 L484.89,132.00 L484.56,131.25 L484.22,130.50 L483.87,129.75 L483.52,129.00 L483.16,128.25 L482.81,127.50 L482.46,126.75 L482.12,126.00 L481.78,125.25 L481.46,124.50 L481.14,123.75 L480.85,123.00 L480.57,122.25 L480.30,121.50 L480.03,120.75 L479.77,120.00 L479.51,119.25 L479.25,118.50 L479.00,117.75 L478.76,117.00 L478.53,116.25 L478.31,115.50 L478.11,114.75 L477.92,114.00 L477.74,113.25 L477.58,112.50 L477.44,111.75 L477.32,111.00 L477.20,110.25 L477.10,109.50 L477.00,108.75 L476.91,108.00 L476.83,107.25 L476.74,106.50 L476.67,105.75 L476.59,105.00 L476.51,104.25 L476.42,103.50 L476.34,102.75 L476.24,102.00 L476.14,101.25 L476.04,100.50 L475.93,99.75 L475.82,99.00 L475.71,98.25 L475.60,97.50 L475.48,96.75 L475.36,96.00 L475.25,95.25 L475.13,94.50 L475.01,93.75 L474.89,93.00 L474.77,92.25 L474.65,91.50 L474.53,90.75 L474.40,90.00 L474.27,89.25 L474.13,88.50 L473.98,87.75 L473.83,87.00 L473.69,86.25 L473.54,85.50 L473.39,84.75 L473.25,84.00 L473.11,83.25 L472.98,82.50 L472.86,81.75 L472.74,81.00 L472.64,80.25 L472.55,79.50 L472.48,78.75 L472.42,78.00 L472.36,77.25 L472.30,76.50 L472.25,75.75 L472.19,75.00 L472.14,74.25 L472.09,73.50 L472.03,72.75 L471.99,72.00 L471.94,71.25 L471.89,70.50 L471.85,69.75 L471.81,69.00 L471.77,68.25 L471.73,67.50 L471.70,66.75 L471.67,66.00 L471.64,65.25 L471.62,64.50 L471.60,63.75 L471.58,63.00 L471.57,62.25 L471.56,61.50 L471.55,60.75 L471.55,60.00Z" fill="#6D7591"/>
<line x1="441.84" x2="448.45" y1="168.46" y2="168.46" stroke="#fff" stroke-opacity="0.9" stroke-width="2.2"/>
<line x1="450.90" x2="460.70" y1="168.46" y2="168.46" stroke="#fff" stroke-opacity="0.9" stroke-width="2.2"/>
<line x1="463.15" x2="472.95" y1="168.46" y2="168.46" stroke="#fff" stroke-opacity="0.9" stroke-width="2.2"/>
<line x1="475.40" x2="485.20" y1="168.46" y2="168.46" stroke="#fff" stroke-opacity="0.9" stroke-width="2.2"/>
<line x1="487.65" x2="494.26" y1="168.46" y2="168.46" stroke="#fff" stroke-opacity="0.9" stroke-width="2.2"/>
</g>
<rect x="53.0" y="78.5" width="465.1" height="259.5" fill="none" stroke="#505050" stroke-width="1.05"/>
<line x1="103.45" x2="103.45" y1="338.0" y2="342.7" stroke="#333" stroke-width="1"/>
<line x1="176.37" x2="176.37" y1="338.0" y2="342.7" stroke="#333" stroke-width="1"/>
<line x1="249.29" x2="249.29" y1="338.0" y2="342.7" stroke="#333" stroke-width="1"/>
<line x1="322.21" x2="322.21" y1="338.0" y2="342.7" stroke="#333" stroke-width="1"/>
<line x1="395.13" x2="395.13" y1="338.0" y2="342.7" stroke="#333" stroke-width="1"/>
<line x1="468.05" x2="468.05" y1="338.0" y2="342.7" stroke="#333" stroke-width="1"/>
<line x1="48.5" x2="53.0" y1="338.00" y2="338.00" stroke="#333" stroke-width="1"/>
<line x1="48.5" x2="53.0" y1="309.17" y2="309.17" stroke="#333" stroke-width="1"/>
<line x1="48.5" x2="53.0" y1="280.33" y2="280.33" stroke="#333" stroke-width="1"/>
<line x1="48.5" x2="53.0" y1="251.50" y2="251.50" stroke="#333" stroke-width="1"/>
<line x1="48.5" x2="53.0" y1="222.67" y2="222.67" stroke="#333" stroke-width="1"/>
<line x1="48.5" x2="53.0" y1="193.83" y2="193.83" stroke="#333" stroke-width="1"/>
<line x1="48.5" x2="53.0" y1="165.00" y2="165.00" stroke="#333" stroke-width="1"/>
<line x1="48.5" x2="53.0" y1="136.17" y2="136.17" stroke="#333" stroke-width="1"/>
<line x1="48.5" x2="53.0" y1="107.33" y2="107.33" stroke="#333" stroke-width="1"/>
<line x1="48.5" x2="53.0" y1="78.50" y2="78.50" stroke="#333" stroke-width="1"/>
<text x="103.45" y="358.3" font-family="Liberation Sans, Arial, Helvetica, sans-serif" stroke="#111" stroke-width="0.2" font-size="15.1" text-anchor="middle" fill="#111">1</text>
<text x="176.37" y="358.3" font-family="Liberation Sans, Arial, Helvetica, sans-serif" stroke="#111" stroke-width="0.2" font-size="15.1" text-anchor="middle" fill="#111">2</text>
<text x="249.29" y="358.3" font-family="Liberation Sans, Arial, Helvetica, sans-serif" stroke="#111" stroke-width="0.2" font-size="15.1" text-anchor="middle" fill="#111">3</text>
<text x="322.21" y="358.3" font-family="Liberation Sans, Arial, Helvetica, sans-serif" stroke="#111" stroke-width="0.2" font-size="15.1" text-anchor="middle" fill="#111">4</text>
<text x="395.13" y="358.3" font-family="Liberation Sans, Arial, Helvetica, sans-serif" stroke="#111" stroke-width="0.2" font-size="15.1" text-anchor="middle" fill="#111">5</text>
<text x="468.05" y="358.3" font-family="Liberation Sans, Arial, Helvetica, sans-serif" stroke="#111" stroke-width="0.2" font-size="15.1" text-anchor="middle" fill="#111">6</text>
<text x="45.8" y="343.80" font-family="Liberation Sans, Arial, Helvetica, sans-serif" stroke="#111" stroke-width="0.2" font-size="14.8" text-anchor="end" fill="#111">0.5</text>
<text x="45.8" y="314.97" font-family="Liberation Sans, Arial, Helvetica, sans-serif" stroke="#111" stroke-width="0.2" font-size="14.8" text-anchor="end" fill="#111">1.0</text>
<text x="45.8" y="286.13" font-family="Liberation Sans, Arial, Helvetica, sans-serif" stroke="#111" stroke-width="0.2" font-size="14.8" text-anchor="end" fill="#111">1.5</text>
<text x="45.8" y="257.30" font-family="Liberation Sans, Arial, Helvetica, sans-serif" stroke="#111" stroke-width="0.2" font-size="14.8" text-anchor="end" fill="#111">2.0</text>
<text x="45.8" y="228.47" font-family="Liberation Sans, Arial, Helvetica, sans-serif" stroke="#111" stroke-width="0.2" font-size="14.8" text-anchor="end" fill="#111">2.5</text>
<text x="45.8" y="199.63" font-family="Liberation Sans, Arial, Helvetica, sans-serif" stroke="#111" stroke-width="0.2" font-size="14.8" text-anchor="end" fill="#111">3.0</text>
<text x="45.8" y="170.80" font-family="Liberation Sans, Arial, Helvetica, sans-serif" stroke="#111" stroke-width="0.2" font-size="14.8" text-anchor="end" fill="#111">3.5</text>
<text x="45.8" y="141.97" font-family="Liberation Sans, Arial, Helvetica, sans-serif" stroke="#111" stroke-width="0.2" font-size="14.8" text-anchor="end" fill="#111">4.0</text>
<text x="45.8" y="113.13" font-family="Liberation Sans, Arial, Helvetica, sans-serif" stroke="#111" stroke-width="0.2" font-size="14.8" text-anchor="end" fill="#111">4.5</text>
<text x="45.8" y="84.30" font-family="Liberation Sans, Arial, Helvetica, sans-serif" stroke="#111" stroke-width="0.2" font-size="14.8" text-anchor="end" fill="#111">5.0</text>
<text x="285.5" y="381.6" font-family="Liberation Sans, Arial, Helvetica, sans-serif" stroke="#111" stroke-width="0.2" font-size="19" text-anchor="middle" fill="#111">dataset</text>
<g transform="translate(18.8,223.6) rotate(-90)"><text x="0" y="0" transform="scale(1.14,1)" font-family="Liberation Sans, Arial, Helvetica, sans-serif" stroke="#111" stroke-width="0.2" font-size="19" fill="#111">Δ</text><text x="15.6" y="-9.6" font-family="Liberation Serif, Times New Roman, serif" font-style="italic" font-size="10.5" letter-spacing="0.9" fill="#111">(E)</text></g>
<rect x="52.8" y="1.3" width="465.4" height="70.2" fill="#fff" stroke="#505050" stroke-width="1.2"/>
<text x="285.6" y="21.6" font-family="Liberation Sans, Arial, Helvetica, sans-serif" stroke="#111" stroke-width="0.2" font-size="14.85" font-weight="bold" text-anchor="middle" fill="#111">experimental data, p = 0.98</text>
<rect x="60" y="32.00" width="26.7" height="12.9" fill="#6D44E6"/>
<text x="90.10" y="43.30" font-family="Liberation Sans, Arial, Helvetica, sans-serif" stroke="#111" stroke-width="0.2" font-size="14.72" fill="#111">electroch. 1</text>
<rect x="238.3" y="32.00" width="26.7" height="12.9" fill="#1B1F4E"/>
<text x="268.70" y="43.30" font-family="Liberation Sans, Arial, Helvetica, sans-serif" stroke="#111" stroke-width="0.2" font-size="14.72" fill="#111">electroch. 2</text>
<rect x="427" y="32.00" width="26.7" height="12.9" fill="#0F9C82"/>
<text x="457.60" y="43.30" font-family="Liberation Sans, Arial, Helvetica, sans-serif" stroke="#111" stroke-width="0.2" font-size="14.72" fill="#111">Shinriki</text>
<rect x="60" y="51.20" width="26.7" height="12.9" fill="#B39327"/>
<text x="90.10" y="62.50" font-family="Liberation Sans, Arial, Helvetica, sans-serif" stroke="#111" stroke-width="0.2" font-size="14.72" fill="#111">Rössler Net</text>
<rect x="238.3" y="51.20" width="26.7" height="12.9" fill="#7D1462"/>
<text x="268.70" y="62.50" font-family="Liberation Sans, Arial, Helvetica, sans-serif" stroke="#111" stroke-width="0.2" font-size="14.72" fill="#111">Double pend.</text>
<rect x="427" y="51.20" width="26.7" height="12.9" fill="#6D7591"/>
<text x="457.60" y="62.50" font-family="Liberation Sans, Arial, Helvetica, sans-serif" stroke="#111" stroke-width="0.2" font-size="14.72" fill="#111">ECG IBI</text>
<rect x="59.9" y="85.2" width="164.3" height="44.4" fill="#fff" stroke="#333" stroke-width="1"/>
<rect x="67" y="92.30" width="13" height="12.7" fill="#6D44E6"/>
<text x="83.80" y="103.50" font-family="Liberation Sans, Arial, Helvetica, sans-serif" stroke="#111" stroke-width="0.2" font-size="13.1" fill="#111">2.22</text>
<rect x="120.5" y="92.30" width="13" height="12.7" fill="#1B1F4E"/>
<text x="137.30" y="103.50" font-family="Liberation Sans, Arial, Helvetica, sans-serif" stroke="#111" stroke-width="0.2" font-size="13.1" fill="#111">2.7</text>
<rect x="174.5" y="92.30" width="13" height="12.7" fill="#0F9C82"/>
<text x="191.30" y="103.50" font-family="Liberation Sans, Arial, Helvetica, sans-serif" stroke="#111" stroke-width="0.2" font-size="13.1" fill="#111">1.99</text>
<rect x="67" y="110.10" width="13" height="12.7" fill="#B39327"/>
<text x="83.80" y="121.30" font-family="Liberation Sans, Arial, Helvetica, sans-serif" stroke="#111" stroke-width="0.2" font-size="13.1" fill="#111">2.01</text>
<rect x="120.5" y="110.10" width="13" height="12.7" fill="#7D1462"/>
<text x="137.30" y="121.30" font-family="Liberation Sans, Arial, Helvetica, sans-serif" stroke="#111" stroke-width="0.2" font-size="13.1" fill="#111">1.83</text>
<rect x="174.5" y="110.10" width="13" height="12.7" fill="#6D7591"/>
<text x="191.30" y="121.30" font-family="Liberation Sans, Arial, Helvetica, sans-serif" stroke="#111" stroke-width="0.2" font-size="13.1" fill="#111">3.44</text>
</svg>
</body></html>
